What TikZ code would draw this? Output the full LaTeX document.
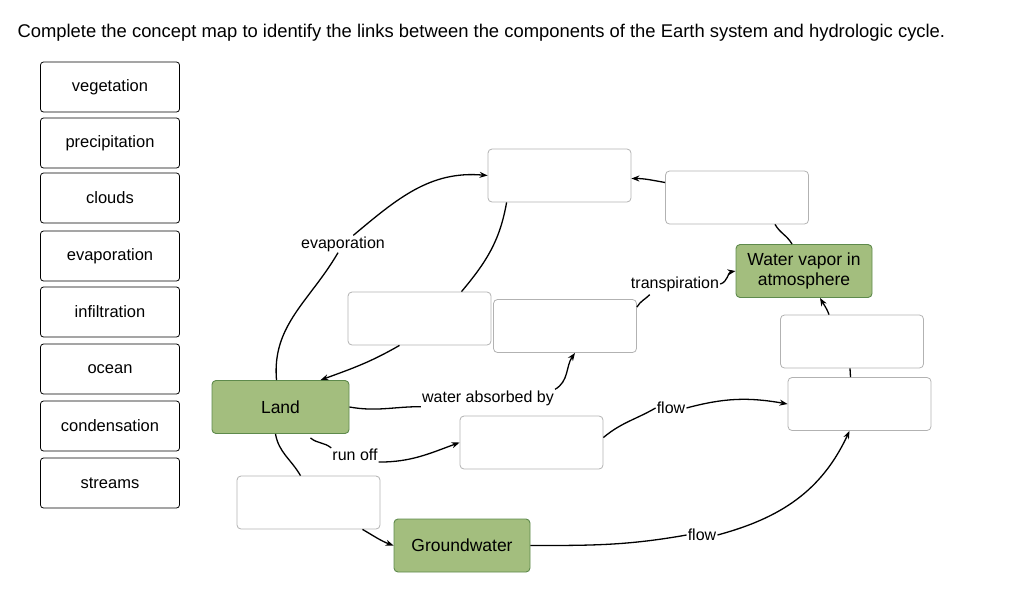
\documentclass[tikz,border=0pt]{standalone}
\usepackage{fontspec}
\setmainfont{Liberation Sans}
\usetikzlibrary{arrows.meta,calc}
\definecolor{leaf}{HTML}{A3BE7E}
\definecolor{leafline}{HTML}{5E8A4C}
\tikzset{
  term/.style={draw=black, line width=0.8pt, rounded corners=3pt, minimum width=139pt, minimum height=50pt, font=\fontsize{16.5}{18}\selectfont},
  blank/.style={draw=black!30, line width=0.8pt, rounded corners=4pt, minimum width=143pt, minimum height=53pt},
  given/.style={draw=leafline, line width=0.9pt, fill=leaf, rounded corners=4pt, minimum width=136pt, minimum height=53pt, align=center, inner sep=2pt, font=\fontsize{17.5}{20}\selectfont},
  lbl/.style={fill=white, inner sep=1pt, font=\fontsize{16}{18}\selectfont},
  link/.style={line width=1.3pt, -{Stealth[length=8pt,width=6pt]}},
  line/.style={line width=1.3pt}
}
\begin{document}
\begin{tikzpicture}[x=1pt,y=-1pt]
  \useasboundingbox (0,0) rectangle (1024,603);
  \node[anchor=west, font=\fontsize{18.4}{21}\selectfont] (title) at (14,33) {Complete the concept map to identify the links between the components of the Earth system and hydrologic cycle.};

  % terms to place
  \node[term] (veg) at (110,87) {vegetation};
  \node[term] (prec) at (110,143) {precipitation};
  \node[term] (cloud) at (110,198) {clouds};
  \node[term] (evap) at (110,256) {evaporation};
  \node[term] (infil) at (110,312) {infiltration};
  \node[term] (ocean) at (110,369) {ocean};
  \node[term] (cond) at (110,426) {condensation};
  \node[term] (strm) at (110,483) {streams};

  % map
  \node[blank] (a) at (559.5,175.5) {};
  \node[blank] (b) at (737,197.5) {};
  \node[given] (vapor) at (804,271) {Water vapor in\\ atmosphere};
  \node[blank] (c) at (419.5,318.5) {};
  \node[blank] (d) at (565,326) {};
  \node[blank] (e) at (852,341.5) {};
  \node[given, minimum width=137pt] (land) at (280.5,407) {Land};
  \node[blank] (f) at (859.5,404) {};
  \node[blank] (g) at (531.5,442.5) {};
  \node[blank] (h) at (308.5,502.5) {};
  \node[given] (gw) at (462,545.5) {Groundwater};

  \node[lbl] (lev) at (343,244) {evaporation};
  \node[lbl] (ltr) at (675,284) {transpiration};
  \node[lbl] (lwa) at (488,398) {water absorbed by};
  \node[lbl] (lro) at (355,455) {run off};
  \node[lbl] (lf1) at (671,408) {flow};
  \node[lbl] (lf2) at (702,535) {flow};

  \draw[line] ($(land.north)+(-4,0)$) to[out=95,in=-120] (lev);
  \draw[link] (lev) to[out=40,in=175] (a.west);
  \draw[line] ($(a.south west)+(19,0)$) to[out=-100,in=50] ($(c.north)+(42,0)$);
  \draw[link] ($(c.south)+(-20,0)$) to[out=-150,in=20] ($(land.north)+(40,0)$);
  \draw[link] ($(b.west)+(0,-15)$) to[out=170,in=0] ($(a.east)+(0,3)$);
  \draw[line] ($(b.south)+(38,0)$) to[out=-60,in=120] ($(vapor.north)+(-12,0)$);
  \draw[line] ($(d.north east)+(0,8)$) to[out=60,in=-135] ($(ltr.south west)+(20,2)$);
  \draw[link] (ltr.east) to[out=15,in=190] (vapor.west);
  \draw[link] ($(e.north)+(-23,0)$) to[out=110,in=-60] ($(vapor.south)+(16,0)$);
  \draw[line] ($(e.south)+(-2,0)$) -- ($(f.north)+(-9,0)$);
  \draw[line] (land.east) to[out=-10,in=180] (lwa.south west);
  \draw[link] (lwa.north east) to[out=30,in=-125] ($(d.south)+(10,0)$);
  \draw[line] ($(land.south)+(30,4)$) to[out=-40,in=140] (lro.north west);
  \draw[link] (lro.south east) to[out=0,in=-160] (g.west);
  \draw[line] ($(g.east)+(0,-5)$) to[out=40,in=-150] (lf1.west);
  \draw[link] (lf1.east) to[out=15,in=170] (f.west);
  \draw[line] ($(land.south)+(-5,0)$) to[out=-80,in=120] ($(h.north)+(-8,0)$);
  \draw[link] ($(h.south)+(54,0)$) to[out=-30,in=160] (gw.west);
  \draw[line] (gw.east) to[out=0,in=190] (lf2.west);
  \draw[link] (lf2.east) to[out=15,in=-115] ($(f.south)+(-10,0)$);
\end{tikzpicture}
\end{document}
